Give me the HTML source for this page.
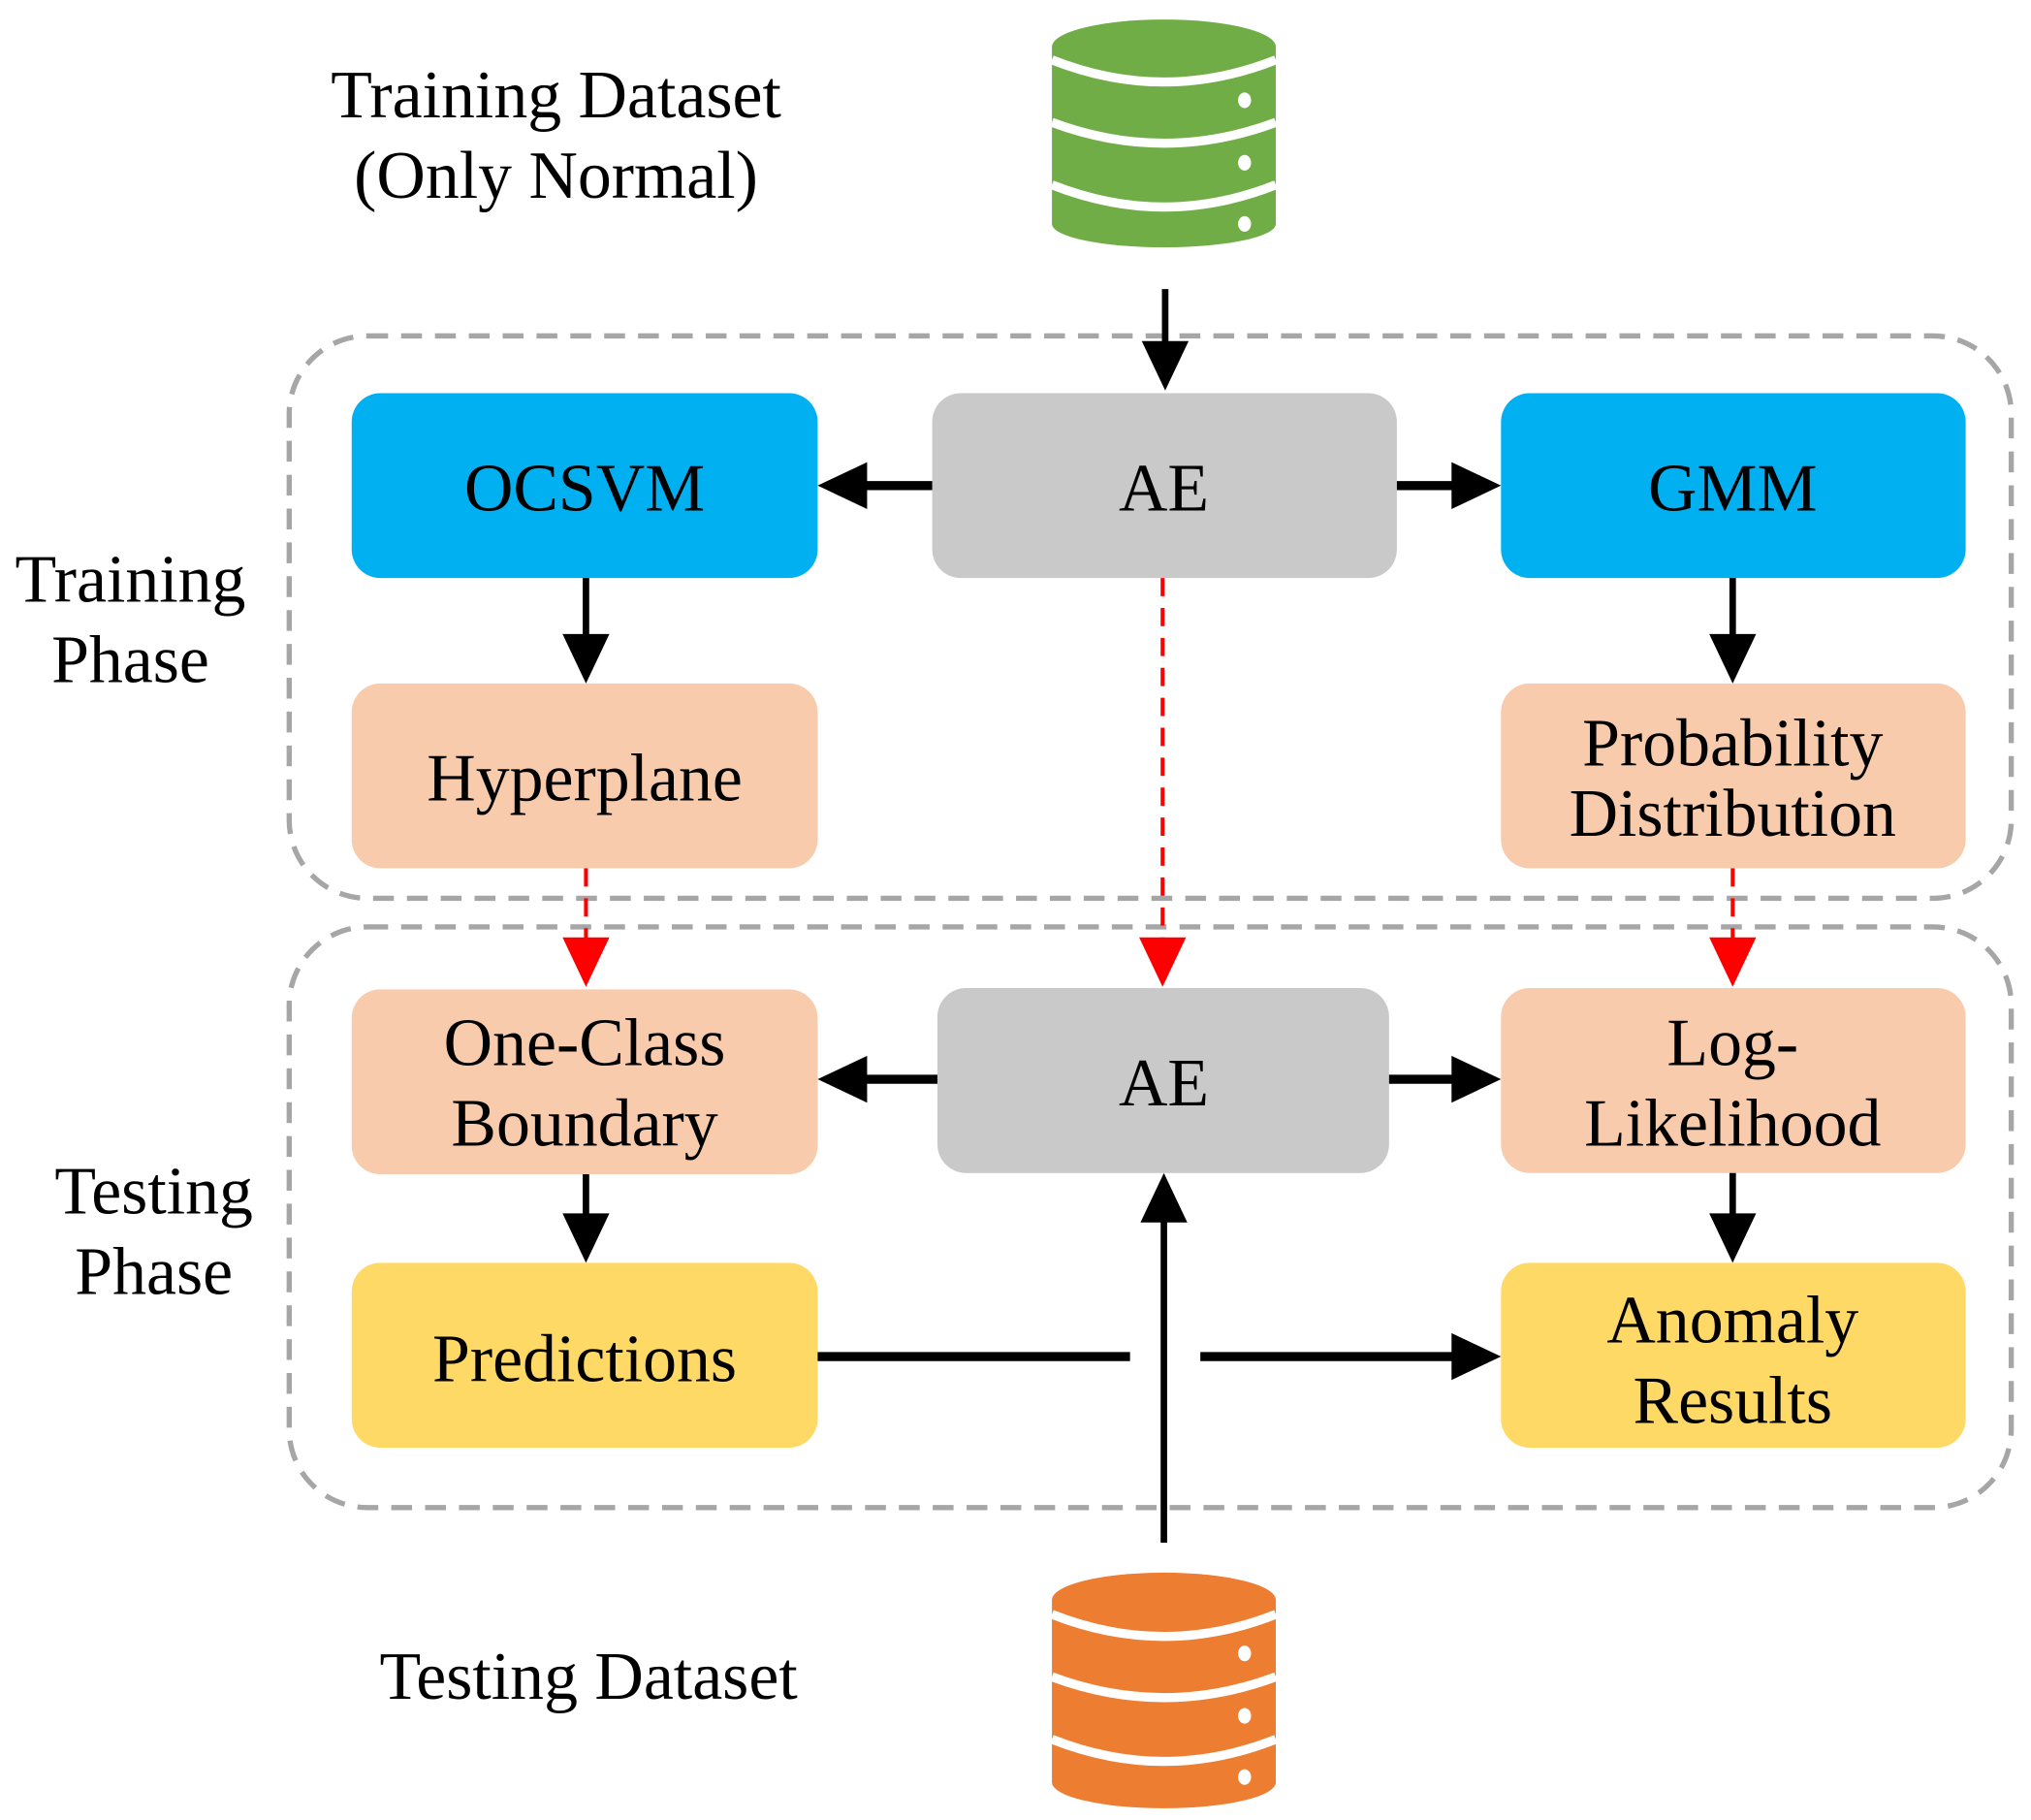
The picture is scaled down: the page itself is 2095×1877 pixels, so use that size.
<!DOCTYPE html>
<html><head><meta charset="utf-8"><style>html,body{margin:0;padding:0;background:#fff}svg{display:block}</style></head>
<body>
<svg width="2095" height="1877" viewBox="0 0 1560 1398" xmlns="http://www.w3.org/2000/svg" font-family="Liberation Serif, serif" font-size="52" text-anchor="middle">
<rect x="222" y="258" width="1323" height="432" rx="60" fill="none" stroke="#a6a6a6" stroke-width="4" stroke-dasharray="16,10"/>
<rect x="222" y="712" width="1323" height="446" rx="60" fill="none" stroke="#a6a6a6" stroke-width="4" stroke-dasharray="16,10"/>

<g fill="#70ad47">
<ellipse cx="894" cy="36" rx="86" ry="21"/>
<rect x="808" y="36" width="172" height="136"/>
<ellipse cx="894" cy="172" rx="86" ry="18"/>
</g>
<g fill="none" stroke="#fff" stroke-width="7">
<path d="M808,46 Q894,80 980,46"/>
<path d="M808,94 Q894,126 980,94"/>
<path d="M808,142 Q894,176 980,142"/>
</g>
<g fill="#fff"><ellipse cx="956" cy="77" rx="5" ry="6"/><ellipse cx="956" cy="125" rx="5" ry="6"/><ellipse cx="956" cy="172" rx="5" ry="6"/></g>

<g fill="#ed7d31">
<ellipse cx="894" cy="1229" rx="86" ry="21"/>
<rect x="808" y="1229" width="172" height="140"/>
<ellipse cx="894" cy="1369" rx="86" ry="20"/>
</g>
<g fill="none" stroke="#fff" stroke-width="7">
<path d="M808,1240 Q894,1274 980,1240"/>
<path d="M808,1288 Q894,1320 980,1288"/>
<path d="M808,1336 Q894,1370 980,1336"/>
</g>
<g fill="#fff"><ellipse cx="956" cy="1270" rx="5" ry="6"/><ellipse cx="956" cy="1318" rx="5" ry="6"/><ellipse cx="956" cy="1365" rx="5" ry="6"/></g>

<text x="427" y="90">Training Dataset</text>
<text x="427" y="152">(Only Normal)</text>
<text x="100" y="462">Training</text>
<text x="100" y="524">Phase</text>
<text x="118" y="932">Testing</text>
<text x="118" y="994">Phase</text>
<text x="452" y="1305">Testing Dataset</text>

<rect x="270" y="302" width="358" height="142" rx="22" fill="#00b0f0"/>
<rect x="716" y="302" width="357" height="142" rx="22" fill="#c9c9c9"/>
<rect x="1153" y="302" width="357" height="142" rx="22" fill="#00b0f0"/>
<rect x="270" y="525" width="358" height="142" rx="22" fill="#f8cbad"/>
<rect x="1153" y="525" width="357" height="142" rx="22" fill="#f8cbad"/>
<rect x="270" y="760" width="358" height="142" rx="22" fill="#f8cbad"/>
<rect x="720" y="759" width="347" height="142" rx="22" fill="#c9c9c9"/>
<rect x="1153" y="759" width="357" height="142" rx="22" fill="#f8cbad"/>
<rect x="270" y="970" width="358" height="142" rx="22" fill="#ffd966"/>
<rect x="1153" y="970" width="357" height="142" rx="22" fill="#ffd966"/>

<text x="449" y="392">OCSVM</text>
<text x="894" y="392">AE</text>
<text x="1331" y="392">GMM</text>
<text x="449" y="615">Hyperplane</text>
<text x="1331" y="588">Probability</text>
<text x="1331" y="642">Distribution</text>
<text x="449" y="818">One-Class</text>
<text x="449" y="880">Boundary</text>
<text x="894" y="849">AE</text>
<text x="1331" y="818">Log-</text>
<text x="1331" y="880">Likelihood</text>
<text x="449" y="1061">Predictions</text>
<text x="1331" y="1031">Anomaly</text>
<text x="1331" y="1093">Results</text>

<g stroke="#000" stroke-width="5" fill="none">
<line x1="895" y1="222" x2="895" y2="265"/>
<line x1="716" y1="373" x2="660" y2="373" stroke-width="7"/>
<line x1="1073" y1="373" x2="1120" y2="373" stroke-width="7"/>
<line x1="450" y1="444" x2="450" y2="490"/>
<line x1="1331" y1="444" x2="1331" y2="490"/>
<line x1="720" y1="829" x2="660" y2="829" stroke-width="7"/>
<line x1="1067" y1="829" x2="1120" y2="829" stroke-width="7"/>
<line x1="450" y1="902" x2="450" y2="935"/>
<line x1="1331" y1="901" x2="1331" y2="935"/>
<line x1="628" y1="1042" x2="868" y2="1042" stroke-width="7"/>
<line x1="922" y1="1042" x2="1120" y2="1042" stroke-width="7"/>
<line x1="894" y1="1185" x2="894" y2="935"/>
</g>
<g fill="#000">
<polygon points="877,262 913,262 895,300"/>
<polygon points="666,355 666,391 628,373"/>
<polygon points="1115,355 1115,391 1153,373"/>
<polygon points="432,487 468,487 450,525"/>
<polygon points="1313,487 1349,487 1331,525"/>
<polygon points="666,811 666,847 628,829"/>
<polygon points="1115,811 1115,847 1153,829"/>
<polygon points="432,932 468,932 450,970"/>
<polygon points="1313,932 1349,932 1331,970"/>
<polygon points="1115,1024 1115,1060 1153,1042"/>
<polygon points="876,939 912,939 894,901"/>
</g>
<g stroke="#f00" stroke-width="3" fill="none" stroke-dasharray="14,9">
<line x1="450" y1="667" x2="450" y2="725"/>
<line x1="893" y1="444" x2="893" y2="725"/>
<line x1="1331" y1="667" x2="1331" y2="725"/>
</g>
<g fill="#f00">
<polygon points="432,720 468,720 450,758"/>
<polygon points="875,720 911,720 893,758"/>
<polygon points="1313,720 1349,720 1331,758"/>
</g>
</svg>
</body></html>
